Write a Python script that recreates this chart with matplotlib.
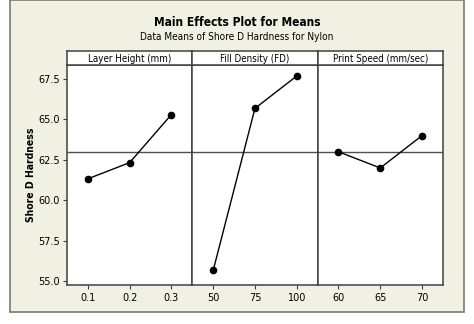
import numpy as np
import matplotlib.pyplot as plt
from matplotlib.patches import Rectangle

# data
factors = ["Layer Height (mm)", "Fill Density (FD)", "Print Speed (mm/sec)"]
levels = [["0.1", "0.2", "0.3"], ["50", "75", "100"], ["60", "65", "70"]]
layer_means = [61.33, 62.33, 65.30]
fill_means = [55.67, 65.68, 67.68]
speed_means = [63.00, 62.00, 64.00]
means = [layer_means, fill_means, speed_means]
grand_mean = 63.0
yticks = [55.0, 57.5, 60.0, 62.5, 65.0, 67.5]

W, H = 474, 324
plt.rcParams["font.family"] = ["DejaVu Sans"]
fig = plt.figure(figsize=(W / 100, H / 100), dpi=100)
fig.patch.set_facecolor("white")

# beige outer frame, drawn behind the axes
fig.patches.append(Rectangle((9.5 / W, 1 - 312 / H), 454 / W, 312 / H,
                             transform=fig.transFigure, facecolor="#f0f0e3",
                             edgecolor="#7a7a72", linewidth=1.2, zorder=-1))

cond = dict(fontstretch="condensed")
fig.text(0.5, 1 - 23 / H, "Main Effects Plot for Means", ha="center", va="center",
         fontsize=8.6, fontweight="bold", **cond)
fig.text(0.5, 1 - 37 / H, "Data Means of Shore D Hardness for Nylon", ha="center",
         va="center", fontsize=7.2, **cond)

left = 67 / W
pw = 125.3 / W
bottom = 1 - 285 / H
ph = (285 - 65) / H
hh = 14 / H
edge = "#404040"

for i in range(3):
    x0 = left + i * pw
    ax = fig.add_axes([x0, bottom, pw, ph])
    ax.set_facecolor("white")
    x = np.arange(1, 4)
    ax.axhline(grand_mean, color="#505050", lw=1.0, zorder=1)
    ax.plot(x, means[i], color="black", lw=1.0, marker="o", ms=4.5, zorder=3)
    ax.set_xlim(0.5, 3.5)
    ax.set_ylim(54.77, 68.36)
    ax.set_xticks(x)
    ax.set_xticklabels(levels[i], fontsize=7)
    ax.tick_params(axis="x", length=3, width=0.8, pad=3, color=edge)
    if i == 0:
        ax.set_yticks(yticks)
        ax.set_yticklabels([f"{v:.1f}" for v in yticks], fontsize=7)
        ax.tick_params(axis="y", length=3, width=0.8, pad=2, color=edge)
        ax.set_ylabel("Shore D Hardness", fontsize=7.5, fontweight="bold",
                      labelpad=2, **cond)
    else:
        ax.set_yticks([])
    for s in ax.spines.values():
        s.set_color(edge)
        s.set_linewidth(1.1)

    hax = fig.add_axes([x0, bottom + ph, pw, hh])
    hax.set_facecolor("white")
    hax.set_xticks([])
    hax.set_yticks([])
    for s in hax.spines.values():
        s.set_color(edge)
        s.set_linewidth(1.1)
    hax.text(0.5, 0.45, factors[i], ha="center", va="center", fontsize=7,
             transform=hax.transAxes, **cond)

fig.savefig("out.png", dpi=100, facecolor=fig.get_facecolor())
